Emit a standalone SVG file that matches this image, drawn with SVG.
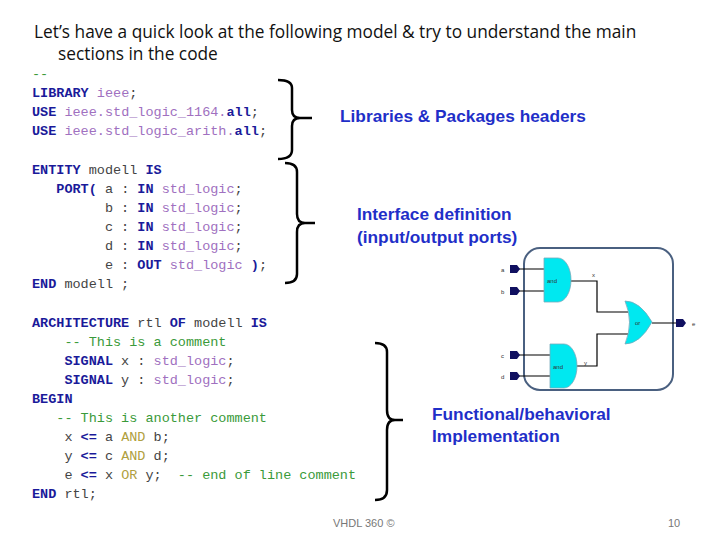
<svg xmlns="http://www.w3.org/2000/svg" width="728" height="546" viewBox="0 0 728 546">
<style>
.t{font-family:"Open Sans","Noto Sans",sans-serif;font-size:17.3px;fill:#111}
.c{font-family:"Liberation Mono",monospace;font-size:13.5px;fill:#444;white-space:pre}
.k{fill:#1a1a9a;font-weight:bold}
.p{fill:#a070c0}
.g{fill:#3a9a3a}
.o{fill:#b0a040}
.l{font-family:"Liberation Sans",Arial,sans-serif;font-size:17.3px;font-weight:bold;fill:#1f2fc8}
.br{fill:none;stroke:#000;stroke-width:2.5}
.w{stroke:#000;stroke-width:1.2;fill:none}
.gate{fill:#00e8f0;stroke:#7ab;stroke-width:0.8}
.port{fill:#101060}
.s{font-family:"Liberation Sans",Arial,sans-serif;font-size:6px;fill:#333}
.f{font-family:"Liberation Sans",Arial,sans-serif;font-size:11px;fill:#777}
</style>
<rect width="728" height="546" fill="#fff"/>
<text class="t" x="34" y="38">Let’s have a quick look at the following model &amp; try to understand the main</text>
<text class="t" x="58" y="60">sections in the code</text>
<g id="code">
<text class="c" x="32" y="78"><tspan class="g">--</tspan></text>
<text class="c" x="32" y="97"><tspan class="k">LIBRARY</tspan> <tspan class="p">ieee</tspan>;</text>
<text class="c" x="32" y="116"><tspan class="k">USE</tspan> <tspan class="p">ieee.std_logic_1164.</tspan><tspan class="k">all</tspan>;</text>
<text class="c" x="32" y="135"><tspan class="k">USE</tspan> <tspan class="p">ieee.std_logic_arith.</tspan><tspan class="k">all</tspan>;</text>
<text class="c" x="32" y="174"><tspan class="k">ENTITY</tspan> modell <tspan class="k">IS</tspan></text>
<text class="c" x="32" y="193">   <tspan class="k">PORT(</tspan> a : <tspan class="k">IN</tspan> <tspan class="p">std_logic</tspan>;</text>
<text class="c" x="32" y="212">         b : <tspan class="k">IN</tspan> <tspan class="p">std_logic</tspan>;</text>
<text class="c" x="32" y="231">         c : <tspan class="k">IN</tspan> <tspan class="p">std_logic</tspan>;</text>
<text class="c" x="32" y="250">         d : <tspan class="k">IN</tspan> <tspan class="p">std_logic</tspan>;</text>
<text class="c" x="32" y="269">         e : <tspan class="k">OUT</tspan> <tspan class="p">std_logic</tspan> <tspan class="k">)</tspan>;</text>
<text class="c" x="32" y="288"><tspan class="k">END</tspan> modell ;</text>
<text class="c" x="32" y="327"><tspan class="k">ARCHITECTURE</tspan> rtl <tspan class="k">OF</tspan> modell <tspan class="k">IS</tspan></text>
<text class="c" x="32" y="346">    <tspan class="g">-- This is a comment</tspan></text>
<text class="c" x="32" y="365">    <tspan class="k">SIGNAL</tspan> x : <tspan class="p">std_logic</tspan>;</text>
<text class="c" x="32" y="384">    <tspan class="k">SIGNAL</tspan> y : <tspan class="p">std_logic</tspan>;</text>
<text class="c" x="32" y="403"><tspan class="k">BEGIN</tspan></text>
<text class="c" x="32" y="422">   <tspan class="g">-- This is another comment</tspan></text>
<text class="c" x="32" y="441">    x <tspan class="k">&lt;=</tspan> a <tspan class="o">AND</tspan> b;</text>
<text class="c" x="32" y="460">    y <tspan class="k">&lt;=</tspan> c <tspan class="o">AND</tspan> d;</text>
<text class="c" x="32" y="479">    e <tspan class="k">&lt;=</tspan> x <tspan class="o">OR</tspan> y;  <tspan class="g">-- end of line comment</tspan></text>
<text class="c" x="32" y="498"><tspan class="k">END</tspan> rtl;</text>
</g>
<g id="braces">
<path class="br" d="M278,80 Q292,80 292,88 L292,110 Q292,118 300,118 L312,118 M300,118 Q292,118 292,126 L292,150 Q292,159 278,159"/>
<path class="br" d="M285,163 Q297,163 297,172 L297,214 Q297,223 305,223 L315,223 M305,223 Q297,223 297,232 L297,274 Q297,283 285,283"/>
<path class="br" d="M375,343 Q387,343 387,352 L387,410 Q387,420 395,420 L403,420 M395,420 Q387,420 387,430 L387,490 Q387,500 375,500"/>
</g>
<g id="labels">
<text class="l" x="340" y="122">Libraries &amp; Packages headers</text>
<text class="l" x="357" y="220">Interface definition</text>
<text class="l" x="357" y="243">(input/output ports)</text>
<text class="l" x="432" y="420">Functional/behavioral</text>
<text class="l" x="432" y="442">Implementation</text>
</g>
<g id="circuit">
<rect x="524" y="248" width="149" height="142" rx="16" fill="none" stroke="#4a6080" stroke-width="2"/>
<g class="w">
<path d="M518,269 H544 M518,291 H544 M518,355 H550 M518,376 H550"/>
<path d="M570,281 H597 V312 H628 M577,366 H597 V334 H628 M652,323 H676"/>
</g>
<path class="gate" d="M544,258 H558 A13,22 0 0 1 558,302 H544 Z"/>
<path class="gate" d="M550,344 H564 A13,22 0 0 1 564,388 H550 Z"/>
<path class="gate" d="M625,301 Q640,301 652,322 Q640,344 625,344 Q634,322 625,301 Z"/>
<g class="port">
<path d="M510,265 H517 L520,269 L517,273 H510 Z"/>
<path d="M510,287 H517 L520,291 L517,295 H510 Z"/>
<path d="M510,351 H517 L520,355 L517,359 H510 Z"/>
<path d="M510,372 H517 L520,376 L517,380 H510 Z"/>
<path d="M676,319 H683 L686,323 L683,327 H676 Z"/>
</g>
<text class="s" x="501" y="272">a</text>
<text class="s" x="501" y="294">b</text>
<text class="s" x="501" y="358">c</text>
<text class="s" x="501" y="379">d</text>
<text class="s" x="692" y="326">e</text>
<text class="s" x="547" y="283">and</text>
<text class="s" x="553" y="369">and</text>
<text class="s" x="635" y="325">or</text>
<text class="s" x="592" y="277">x</text>
<text class="s" x="584" y="365">y</text>
</g>
<text class="f" x="333" y="527">VHDL 360 ©</text>
<text class="f" x="668" y="527">10</text>
</svg>
